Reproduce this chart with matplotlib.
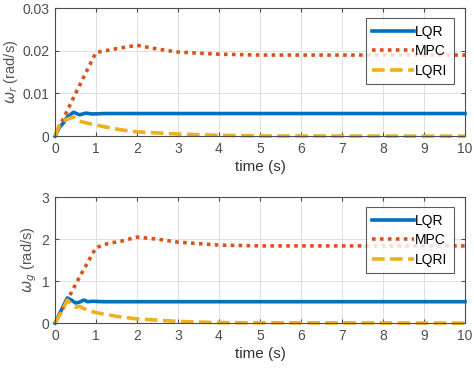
import matplotlib.pyplot as plt

# top panel: rotor speed
t_top = [0, 0.1, 0.2, 0.3, 0.45, 0.6, 0.75, 0.9, 1.2, 2, 3, 5, 10]
lqr_top = [0, 0.002, 0.003, 0.0045, 0.0056, 0.005, 0.0054, 0.0052, 0.0053, 0.0053, 0.0053, 0.0053, 0.0053]
t_mpc_top = [0, 0.2, 0.5, 1.0, 1.5, 2.0, 2.5, 3.0, 4.0, 5.0, 10]
mpc_top = [0, 0.004, 0.010, 0.0196, 0.0205, 0.0213, 0.0204, 0.0197, 0.0192, 0.019, 0.019]
t_lqri_top = [0, 0.1, 0.2, 0.3, 0.45, 0.6, 0.8, 1.2, 1.6, 2.0, 3.0, 4.0, 5.0, 10]
lqri_top = [0, 0.0025, 0.0035, 0.004, 0.0045, 0.0035, 0.003, 0.0022, 0.0015, 0.001, 0.0005, 0.0002, 0.00005, 0.0]

# bottom panel: generator speed
t_bot = [0, 0.15, 0.3, 0.4, 0.5, 0.6, 0.7, 0.8, 0.9, 1.2, 10]
lqr_bot = [0, 0.3, 0.6, 0.55, 0.48, 0.5, 0.55, 0.51, 0.52, 0.51, 0.51]
t_mpc_bot = [0, 0.3, 0.6, 1.0, 1.3, 1.6, 2.0, 2.5, 3.0, 4.0, 5.0, 10]
mpc_bot = [0, 0.55, 1.1, 1.8, 1.9, 1.95, 2.05, 2.0, 1.93, 1.86, 1.84, 1.84]
t_lqri_bot = [0, 0.15, 0.3, 0.4, 0.5, 0.6, 0.8, 1.0, 1.5, 2.0, 3.0, 4.0, 10]
lqri_bot = [0, 0.25, 0.55, 0.45, 0.38, 0.4, 0.3, 0.25, 0.16, 0.1, 0.04, 0.01, 0.0]

blue = '#0072BD'
orange = '#D95319'
yellow = '#EDB120'

plt.rcParams['font.family'] = ['Liberation Sans', 'DejaVu Sans']
plt.rcParams['mathtext.fontset'] = 'dejavusans'

fig = plt.figure(figsize=(4.74, 3.68), dpi=100)
ax1 = fig.add_axes([0.116, 0.630, 0.865, 0.348])
ax2 = fig.add_axes([0.116, 0.122, 0.865, 0.342])

panels = [
    (ax1, t_top, lqr_top, t_mpc_top, mpc_top, t_lqri_top, lqri_top,
     [0, 0.01, 0.02, 0.03], ['0', '0.01', '0.02', '0.03'], r'$\omega_r$ (rad/s)'),
    (ax2, t_bot, lqr_bot, t_mpc_bot, mpc_bot, t_lqri_bot, lqri_bot,
     [0, 1, 2, 3], ['0', '1', '2', '3'], r'$\omega_g$ (rad/s)'),
]

for ax, t1, y1, t2, y2, t3, y3, yt, ytl, ylab in panels:
    ax.plot(t1, y1, color=blue, lw=2.6, label='LQR', clip_on=False)
    ax.plot(t2, y2, color=orange, lw=2.6, ls=(0, (1, 1.2)), label='MPC')
    ax.plot(t3, y3, color=yellow, lw=2.6, ls=(0, (3.5, 1.5)), label='LQRI', clip_on=False)
    ax.set_xlim(0, 10)
    ax.set_ylim(yt[0], yt[-1])
    ax.set_xticks(range(11))
    ax.set_yticks(yt)
    ax.set_yticklabels(ytl)
    ax.grid(True, color='#e0e0e0', lw=0.7)
    ax.set_axisbelow(True)
    ax.tick_params(direction='in', length=3, colors='#4d4d4d', labelsize=10,
                   top=True, right=True, pad=4)
    for s in ax.spines.values():
        s.set_color('#4d4d4d')
        s.set_linewidth(0.8)
    ax.set_xlabel('time (s)', fontsize=11, color='#333333', labelpad=3)
    ax.set_ylabel(ylab, fontsize=10.5, color='#555555', labelpad=2)
    leg = ax.legend(loc='upper right', fontsize=10, handlelength=3.0,
                    frameon=True, fancybox=False, borderpad=0.45,
                    handletextpad=0.1, labelspacing=0.4,
                    borderaxespad=0, bbox_to_anchor=(0.973, 0.92))
    leg.get_frame().set_edgecolor('#333333')
    leg.get_frame().set_linewidth(0.8)

fig.savefig('out.png', dpi=100)
